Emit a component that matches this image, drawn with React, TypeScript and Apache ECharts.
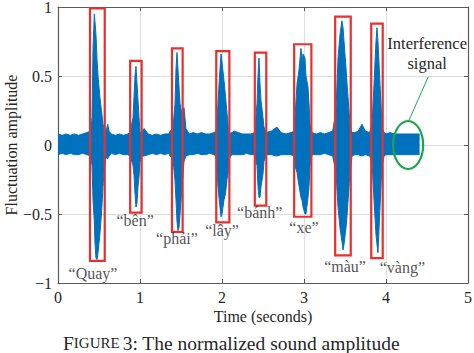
import React, { useEffect, useRef } from "react";
import * as echarts from "echarts";

// Envelope of the normalized sound amplitude
const times = [
  0, 0.05, 0.1, 0.15, 0.2, 0.25, 0.3, 0.35, 0.4,
  0.415, 0.427, 0.443, 0.45, 0.463, 0.476, 0.488, 0.512, 0.53, 0.549, 0.561, 0.585, 0.606, 0.622,
  0.65, 0.7, 0.75, 0.8, 0.85, 0.88,
  0.915, 0.927, 0.939, 0.951, 0.963, 0.976, 0.988, 1.0, 1.024, 1.05,
  1.1, 1.15, 1.2, 1.25, 1.3, 1.35, 1.366, 1.402,
  1.427, 1.439, 1.451, 1.463, 1.476, 1.488, 1.512, 1.537, 1.56,
  1.6, 1.65, 1.7, 1.75, 1.8, 1.85, 1.9, 1.927,
  1.951, 1.97, 1.988, 2.0, 2.024, 2.043, 2.061, 2.073, 2.085,
  2.12, 2.15, 2.2, 2.25, 2.3, 2.35, 2.4,
  2.427, 2.439, 2.451, 2.463, 2.476, 2.5, 2.512, 2.537,
  2.6, 2.67, 2.72, 2.78, 2.84, 2.88,
  2.89, 2.915, 2.94, 2.963, 2.976, 2.988, 3.012, 3.024, 3.049, 3.061, 3.073, 3.098,
  3.15, 3.2, 3.25, 3.3, 3.35,
  3.39, 3.415, 3.439, 3.463, 3.476, 3.488, 3.512, 3.524, 3.549, 3.561, 3.585,
  3.62, 3.66, 3.707, 3.75, 3.8,
  3.83, 3.854, 3.878, 3.89, 3.902, 3.927, 3.939, 3.951, 3.976,
  4.0, 4.05, 4.1, 4.15, 4.2, 4.25, 4.3, 4.35, 4.41,
];
const upperEnv = [
  0.08, 0.07, 0.08, 0.07, 0.08, 0.07, 0.08, 0.09, 0.1,
  0.2, 0.7, 0.95, 0.9, 0.8, 0.62, 0.5, 0.34, 0.25, 0.15, 0.12, 0.1, 0.15, 0.1,
  0.08, 0.07, 0.08, 0.07, 0.08, 0.09,
  0.2, 0.35, 0.5, 0.57, 0.45, 0.32, 0.2, 0.09, 0.09, 0.12,
  0.08, 0.07, 0.08, 0.07, 0.08, 0.08, 0.1, 0.12,
  0.3, 0.55, 0.67, 0.55, 0.42, 0.3, 0.22, 0.27, 0.12,
  0.08, 0.09, 0.08, 0.09, 0.08, 0.08, 0.09, 0.1,
  0.3, 0.5, 0.66, 0.6, 0.47, 0.35, 0.23, 0.15, 0.08,
  0.09, 0.1, 0.09, 0.08, 0.08, 0.08, 0.09,
  0.3, 0.5, 0.63, 0.45, 0.32, 0.2, 0.13, 0.09,
  0.1, 0.13, 0.09, 0.08, 0.09, 0.1,
  0.2, 0.44, 0.55, 0.7, 0.6, 0.66, 0.63, 0.5, 0.42, 0.3, 0.15, 0.09,
  0.08, 0.09, 0.08, 0.09, 0.1,
  0.25, 0.63, 0.8, 0.9, 0.85, 0.75, 0.56, 0.45, 0.25, 0.15, 0.09,
  0.09, 0.1, 0.15, 0.1, 0.09,
  0.15, 0.44, 0.75, 0.85, 0.75, 0.44, 0.3, 0.13, 0.09,
  0.08, 0.09, 0.08, 0.08, 0.08, 0.08, 0.08, 0.08, 0.08,
];
const lowerEnv = [
  -0.07, -0.06, -0.07, -0.06, -0.07, -0.07, -0.06, -0.07, -0.08,
  -0.15, -0.4, -0.55, -0.7, -0.82, -0.83, -0.78, -0.64, -0.5, -0.3, -0.2, -0.09, -0.1, -0.08,
  -0.06, -0.07, -0.06, -0.07, -0.07, -0.08,
  -0.15, -0.22, -0.35, -0.45, -0.42, -0.3, -0.23, -0.12, -0.08, -0.08,
  -0.07, -0.06, -0.07, -0.06, -0.07, -0.06, -0.08, -0.1,
  -0.26, -0.4, -0.55, -0.62, -0.6, -0.5, -0.3, -0.12, -0.08,
  -0.07, -0.07, -0.06, -0.07, -0.07, -0.06, -0.07, -0.08,
  -0.3, -0.42, -0.52, -0.5, -0.4, -0.35, -0.25, -0.21, -0.1,
  -0.07, -0.07, -0.07, -0.07, -0.06, -0.07, -0.07,
  -0.15, -0.3, -0.38, -0.38, -0.3, -0.21, -0.12, -0.07,
  -0.07, -0.08, -0.07, -0.07, -0.07, -0.08,
  -0.15, -0.2, -0.3, -0.38, -0.4, -0.45, -0.5, -0.5, -0.38, -0.3, -0.15, -0.07,
  -0.07, -0.07, -0.06, -0.07, -0.08,
  -0.2, -0.45, -0.6, -0.7, -0.76, -0.72, -0.6, -0.52, -0.3, -0.2, -0.08,
  -0.07, -0.07, -0.08, -0.07, -0.08,
  -0.12, -0.4, -0.65, -0.72, -0.78, -0.45, -0.3, -0.15, -0.08,
  -0.07, -0.07, -0.07, -0.07, -0.07, -0.07, -0.07, -0.07, -0.07,
];

// Words and their red boxes
const words = ["“Quay”", "“bên”", "“phải”", "“lây”", "“bánh”", "“xe”", "“màu”", "“vàng”"];
const boxStart = [0.39, 0.88, 1.39, 1.93, 2.4, 2.88, 3.38, 3.82];
const boxEnd = [0.57, 1.02, 1.52, 2.09, 2.54, 3.09, 3.57, 3.96];
const boxTop = [0.99, 0.61, 0.7, 0.68, 0.67, 0.73, 0.93, 0.88];
const boxBottom = [-0.84, -0.49, -0.63, -0.56, -0.44, -0.52, -0.8, -0.82];
const labelX = [0.427, 0.94, 1.45, 2.0, 2.46, 3.0, 3.5, 4.2];
const labelY = [-0.93, -0.55, -0.68, -0.62, -0.49, -0.6, -0.88, -0.89];

// Interference annotation
const interferenceCenter = [4.27, 0];
const interferenceText = "Interference\nsignal";
const caption = "{a|F}{b|IGURE} {a|3: The normalized sound amplitude}";

const FONT = "'Liberation Serif', 'DejaVu Serif', serif";
const BLUE = "#0072BD";
const RED = "#e8302c";
const GREEN = "#1aa64a";
const AXIS = "#5a5a5a";
const TEXT = "#262626";

const fmt = (v: number) => (v < 0 ? "\u2212" + String(-v) : String(v));

export default function App() {
  const ref = useRef<HTMLDivElement>(null);
  useEffect(() => {
    if (!ref.current) return;
    const chart = echarts.init(ref.current, undefined, { renderer: "svg" });
    const upperData = times.map((t, i) => [t, upperEnv[i]]);
    const lowerData = times.map((t, i) => [t, lowerEnv[i]]);
    const boxes = words.map((w, i) => [
      { xAxis: boxStart[i], yAxis: boxTop[i] },
      { xAxis: boxEnd[i], yAxis: boxBottom[i] },
    ]);
    const axisCommon = {
      axisLine: { show: true, onZero: false, lineStyle: { color: AXIS, width: 1.2 } },
      axisTick: { show: true, inside: true, length: 4, lineStyle: { color: AXIS } },
    };
    chart.setOption({
      animation: false,
      grid: { left: 58, right: 6, top: 7, bottom: 70, containLabel: false, outerBoundsMode: "none" },
      xAxis: [
        {
          type: "value",
          min: 0,
          max: 5,
          interval: 1,
          ...axisCommon,
          axisLabel: { color: TEXT, fontFamily: FONT, fontSize: 16, margin: 6, formatter: fmt },
          splitLine: { show: true, lineStyle: { color: "#dedede", width: 1 } },
          name: "Time (seconds)",
          nameLocation: "middle",
          nameGap: 25,
          nameMoveOverlap: false,
          nameTextStyle: { color: TEXT, fontFamily: FONT, fontSize: 16 },
        },
        {
          type: "value",
          position: "top",
          min: 0,
          max: 5,
          interval: 1,
          ...axisCommon,
          axisLabel: { show: false },
          splitLine: { show: false },
        },
      ],
      yAxis: [
        {
          type: "value",
          min: -1,
          max: 1,
          interval: 0.5,
          ...axisCommon,
          axisLabel: { color: TEXT, fontFamily: FONT, fontSize: 16, margin: 6, formatter: fmt },
          splitLine: { show: true, lineStyle: { color: "#dedede", width: 1 } },
          name: "Fluctuation amplitude",
          nameLocation: "middle",
          nameGap: 39,
          nameMoveOverlap: false,
          nameTextStyle: { color: TEXT, fontFamily: FONT, fontSize: 16 },
        },
        {
          type: "value",
          position: "right",
          min: -1,
          max: 1,
          interval: 0.5,
          ...axisCommon,
          axisLabel: { show: false },
          splitLine: { show: false },
        },
      ],
      series: [
        {
          type: "line",
          data: upperData,
          symbol: "none",
          lineStyle: { color: BLUE, width: 1 },
          areaStyle: { color: BLUE, opacity: 1 },
          z: 2,
          markArea: {
            silent: true,
            itemStyle: { color: "rgba(0,0,0,0)", borderColor: RED, borderWidth: 2.2 },
            data: boxes,
            z: 5,
          },
        },
        {
          type: "line",
          data: lowerData,
          symbol: "none",
          lineStyle: { color: BLUE, width: 1 },
          areaStyle: { color: BLUE, opacity: 1 },
          z: 2,
        },
        {
          type: "scatter",
          symbolSize: 0,
          silent: true,
          data: words.map((w, i) => ({ value: [labelX[i], labelY[i]], name: w })),
          label: {
            show: true,
            position: "inside",
            formatter: (p: any) => p.name,
            color: TEXT,
            fontFamily: FONT,
            fontSize: 16,
          },
          z: 6,
        },
      ],
    });
    const c = chart.convertToPixel({ gridIndex: 0 }, interferenceCenter) as number[];
    chart.setOption({
      graphic: [
        {
          type: "ellipse",
          shape: { cx: c[0], cy: c[1], rx: 15, ry: 24 },
          style: { fill: "none", stroke: GREEN, lineWidth: 2.2 },
          z: 10,
        },
        {
          type: "line",
          shape: { x1: c[0] + 1, y1: c[1] - 25, x2: c[0] + 20, y2: c[1] - 68 },
          style: { stroke: GREEN, lineWidth: 1 },
          z: 10,
        },
        {
          type: "text",
          x: c[0] + 19,
          y: c[1] - 92,
          style: {
            text: interferenceText,
            fill: TEXT,
            fontFamily: FONT,
            fontSize: 16.5,
            align: "center",
            verticalAlign: "middle",
            lineHeight: 20,
            backgroundColor: "#fff",
          },
          z: 10,
        },
        {
          type: "text",
          x: 63,
          y: 333,
          style: {
            text: caption,
            fill: TEXT,
            fontFamily: FONT,
            verticalAlign: "top",
            rich: {
              a: { fontSize: 19.5, fontFamily: FONT, fill: TEXT },
              b: { fontSize: 15, fontFamily: FONT, fill: TEXT },
            },
          },
          z: 10,
        },
      ],
    });
    return () => chart.dispose();
  }, []);
  return <div ref={ref} style={{ position: "fixed", left: 0, top: 0, width: 474, height: 353, background: "#fff" }} />;
}
